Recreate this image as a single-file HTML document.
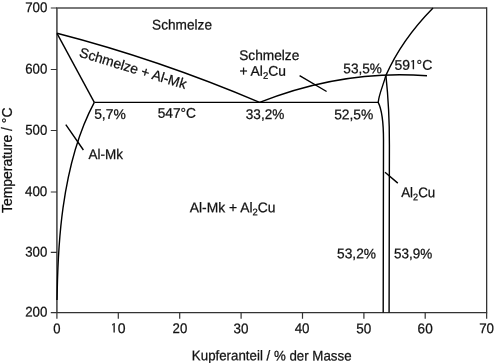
<!DOCTYPE html>
<html><head><meta charset="utf-8">
<style>
html,body{margin:0;padding:0;background:#fff;}
body{width:495px;height:363px;overflow:hidden;}
svg{display:block;}
text{font-family:"Liberation Sans",Arial,Helvetica,sans-serif;font-size:14px;fill:#111;stroke:#111;stroke-width:0.25px;}
.sub{font-size:9.5px;}
.one{font-family:"IPAGothic","Liberation Sans",sans-serif;font-size:13px;}
.ax{stroke:#555;stroke-width:1.7;fill:none;}
.ax2{stroke:#333;stroke-width:1.3;fill:none;}
.tk{stroke:#333;stroke-width:1.2;fill:none;}
.c{stroke:#000;stroke-width:1.4;fill:none;}
</style></head>
<body>
<svg width="495" height="363" viewBox="0 0 495 363">
<path class="ax" d="M56.9,312.6 V8"/>
<path class="ax" style="stroke:#4d4d4d;stroke-width:1.5" d="M56.05,8 H486.6"/>
<path class="ax2" d="M56.9,312.6 H486.65 V7.2"/>
<path class="tk" d="M50.8,8H57 M50.8,69.5H57 M50.8,130.5H57 M50.8,192H57 M50.8,252.3H57 M50.8,312.6H57"/>
<path class="tk" d="M56.9,312.6V318.8 M118.3,312.6V318.8 M179.7,312.6V318.8 M241.1,312.6V318.8 M302.5,312.6V318.8 M363.9,312.6V318.8 M425.2,312.6V318.8 M486.65,312.6V318.8"/>
<path class="c" d="M57,33.3 Q158.3,59.4 259.6,102.4"/>
<path class="c" d="M57,33.3 L94.3,102.4"/>
<path class="c" d="M94.3,102.4 L378.2,102.4"/>
<path class="c" d="M94.3,102.4 C56.2,173.4 57.9,274 57,300"/>
<path class="c" d="M259.6,102.4 Q343.3,69.3 427,75.8"/>
<path class="c" d="M385.9,75.4 C395.7,53.1 410,31.3 433,7.9"/>
<path class="c" d="M385.9,75.4 C383,86 379,94 378.2,102.4 C381,108 383.5,120 383.5,140 L383.2,312.6"/>
<path class="c" d="M385.9,75.4 C388,95 389.5,120 389.4,145 L389.1,312.6"/>
<path class="c" d="M65.8,124.6 L83.4,150 M299.6,75.6 L326.6,91.5 M385,172.3 L397.8,183.1"/>

<text x="25.14" y="12.08" textLength="22.27" lengthAdjust="spacingAndGlyphs" transform="matrix(1 0.001 0 1 0 -0.036)">700</text>
<text x="25.23" y="73.40" textLength="22.10" lengthAdjust="spacingAndGlyphs" transform="matrix(1 0.001 0 1 0 -0.036)">600</text>
<text x="25.24" y="134.63" textLength="22.05" lengthAdjust="spacingAndGlyphs" transform="matrix(1 0.001 0 1 0 -0.036)">500</text>
<text x="24.94" y="196.03" textLength="22.40" lengthAdjust="spacingAndGlyphs" transform="matrix(1 0.001 0 1 0 -0.036)">400</text>
<text x="25.28" y="256.42" textLength="22.06" lengthAdjust="spacingAndGlyphs" transform="matrix(1 0.001 0 1 0 -0.036)">300</text>
<text x="25.16" y="316.59" textLength="22.21" lengthAdjust="spacingAndGlyphs" transform="matrix(1 0.001 0 1 0 -0.036)">200</text>
<text x="53.33" y="333.16" textLength="7.28" lengthAdjust="spacingAndGlyphs" transform="matrix(1 0.001 0 1 0 -0.057)">0</text>
<text x="110.65" y="332.99" textLength="14.92" lengthAdjust="spacing" transform="matrix(1 0.001 0 1 0 -0.118)"><tspan class="one">1</tspan>0</text>
<text x="172.58" y="332.90" textLength="14.74" lengthAdjust="spacingAndGlyphs" transform="matrix(1 0.001 0 1 0 -0.180)">20</text>
<text x="233.48" y="333.18" textLength="14.94" lengthAdjust="spacingAndGlyphs" transform="matrix(1 0.001 0 1 0 -0.241)">30</text>
<text x="294.63" y="333.02" textLength="14.86" lengthAdjust="spacingAndGlyphs" transform="matrix(1 0.001 0 1 0 -0.302)">40</text>
<text x="356.35" y="333.15" textLength="15.05" lengthAdjust="spacingAndGlyphs" transform="matrix(1 0.001 0 1 0 -0.364)">50</text>
<text x="417.61" y="333.17" textLength="15.08" lengthAdjust="spacingAndGlyphs" transform="matrix(1 0.001 0 1 0 -0.425)">60</text>
<text x="479.14" y="333.05" textLength="14.89" lengthAdjust="spacingAndGlyphs" transform="matrix(1 0.001 0 1 0 -0.487)">70</text>
<text x="191.87" y="360.39" textLength="159.69" lengthAdjust="spacingAndGlyphs" transform="matrix(1 0.001 0 1 0 -0.272)">Kupferanteil / % der Masse</text>
<text x="152.06" y="29.47" textLength="59.92" lengthAdjust="spacingAndGlyphs" transform="matrix(1 0.001 0 1 0 -0.182)">Schmelze</text>
<text x="239.17" y="59.94" textLength="60.14" lengthAdjust="spacingAndGlyphs" transform="matrix(1 0.001 0 1 0 -0.269)">Schmelze</text>
<text x="239.43" y="75.82" textLength="46.53" lengthAdjust="spacingAndGlyphs" transform="matrix(1 0.001 0 1 0 -0.263)">+ Al<tspan class="sub" dy="3">2</tspan><tspan dy="-3">Cu</tspan></text>
<text x="343.33" y="73.26" textLength="38.64" lengthAdjust="spacingAndGlyphs" transform="matrix(1 0.001 0 1 0 -0.363)">53,5%</text>
<text x="394.49" y="69.71" textLength="37.86" lengthAdjust="spacing" transform="matrix(1 0.001 0 1 0 -0.413)">59<tspan class="one">1</tspan>°C</text>
<text x="94.15" y="118.89" textLength="31.70" lengthAdjust="spacingAndGlyphs" transform="matrix(1 0.001 0 1 0 -0.110)">5,7%</text>
<text x="157.69" y="117.76" textLength="38.37" lengthAdjust="spacingAndGlyphs" transform="matrix(1 0.001 0 1 0 -0.177)">547°C</text>
<text x="245.81" y="119.08" textLength="38.61" lengthAdjust="spacingAndGlyphs" transform="matrix(1 0.001 0 1 0 -0.265)">33,2%</text>
<text x="334.14" y="119.19" textLength="39.27" lengthAdjust="spacingAndGlyphs" transform="matrix(1 0.001 0 1 0 -0.354)">52,5%</text>
<text x="88.61" y="158.94" textLength="34.46" lengthAdjust="spacingAndGlyphs" transform="matrix(1 0.001 0 1 0 -0.106)">Al-Mk</text>
<text x="401.23" y="197.15" textLength="33.95" lengthAdjust="spacingAndGlyphs" transform="matrix(1 0.001 0 1 0 -0.418)">Al<tspan class="sub" dy="3">2</tspan><tspan dy="-3">Cu</tspan></text>
<text x="189.78" y="212.27" textLength="85.67" lengthAdjust="spacingAndGlyphs" transform="matrix(1 0.001 0 1 0 -0.233)">Al-Mk + Al<tspan class="sub" dy="3">2</tspan><tspan dy="-3">Cu</tspan></text>
<text x="337.04" y="258.39" textLength="39.00" lengthAdjust="spacingAndGlyphs" transform="matrix(1 0.001 0 1 0 -0.357)">53,2%</text>
<text x="394.04" y="258.38" textLength="38.35" lengthAdjust="spacingAndGlyphs" transform="matrix(1 0.001 0 1 0 -0.413)">53,9%</text>
<text transform="translate(11.8,213) rotate(-90)" textLength="105.5" lengthAdjust="spacingAndGlyphs" style="font-size:14.6px">Temperature / °C</text>
<text transform="translate(78.6,56.6) rotate(17)" textLength="111" lengthAdjust="spacingAndGlyphs">Schmelze + Al-Mk</text>

</svg>
</body></html>
